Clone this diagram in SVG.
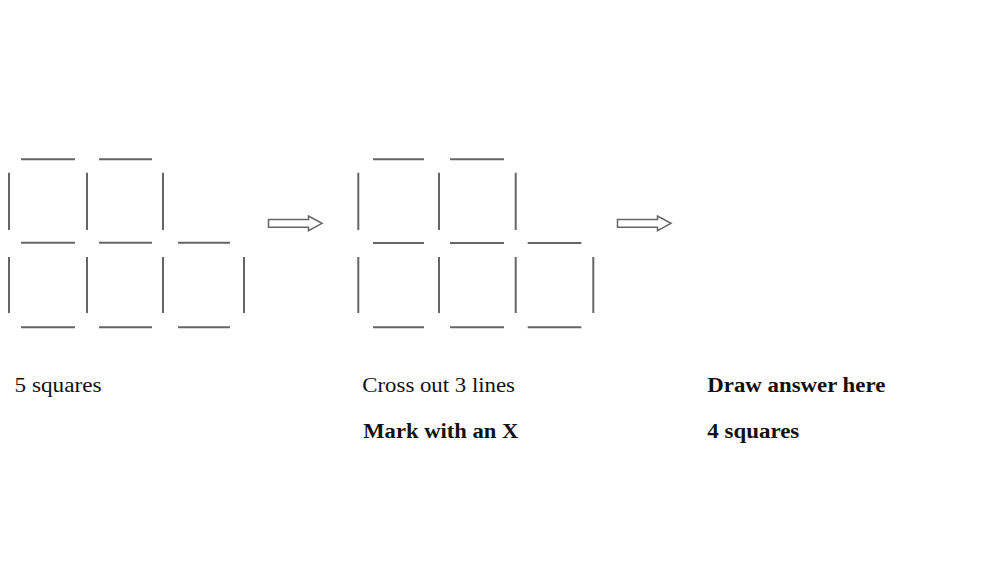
<svg xmlns="http://www.w3.org/2000/svg" width="1000" height="563" viewBox="0 0 1000 563">
<style>
.m{stroke:#666;stroke-width:2;stroke-linecap:butt}
.arr{fill:#fff;stroke:#666;stroke-width:1.5;stroke-linejoin:miter}
.t{font-family:"Liberation Serif","Times New Roman",serif;font-size:20px;fill:#111}
.b{font-weight:bold}
</style>
<rect width="1000" height="563" fill="#fff"/>
<g id="figure1">
<path class="m" d="M21 159.3H75M99 159.3H152
M9 172.7V230M87 172.7V230M163 172.7V230
M21 242.7H75M99 242.7H152M178 242.7H230
M9 257V313M87 257V313M163 257V313M244 257V313
M21 327.3H75M99 327.3H152M178 327.3H230"/>
</g>
<g id="figure2">
<path class="m" d="M373 159.3H424M450 159.3H504
M358.3 172.7V230M439 172.7V230M515.7 172.7V230
M373 243H424M450 243H504M527.7 243H581.3
M358.3 257V313M439 257V313M515.7 257V313M593.3 257V313
M373 327.3H424M450 327.3H504M527.7 327.3H581.3"/>
</g>
<g id="connectors">
<path class="arr" d="M268.5 219.5H308.5V216L322 223.3L308.5 230.7V227.3H268.5Z"/>
<path class="arr" d="M617.5 219.5H657.5V216L671 223.3L657.5 230.7V227.3H617.5Z"/>
</g>
<g id="labels">
<text class="t" x="14.5" y="391.7" textLength="87" lengthAdjust="spacingAndGlyphs">5 squares</text>
<text class="t" x="362.3" y="391.7" textLength="152.7" lengthAdjust="spacingAndGlyphs">Cross out 3 lines</text>
<text class="t b" x="363.3" y="437.5" textLength="155" lengthAdjust="spacingAndGlyphs">Mark with an X</text>
<text class="t b" x="707.3" y="391.7" textLength="178" lengthAdjust="spacingAndGlyphs">Draw answer here</text>
<text class="t b" x="707.3" y="437.5" textLength="92" lengthAdjust="spacingAndGlyphs">4 squares</text>
</g>
</svg>
